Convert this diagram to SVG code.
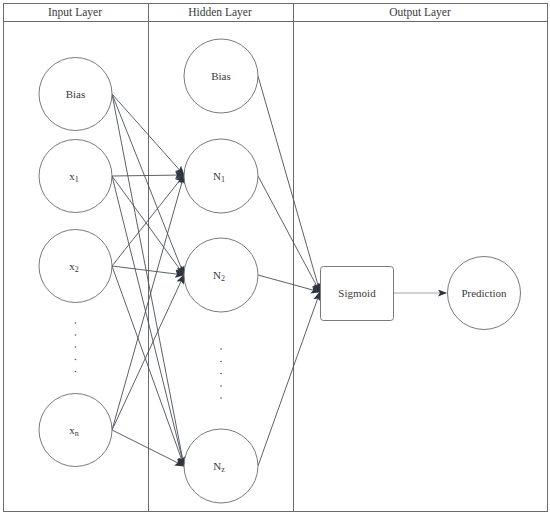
<svg xmlns="http://www.w3.org/2000/svg" width="550" height="515" viewBox="0 0 550 515">
<defs>
<marker id="ah" markerWidth="10" markerHeight="8" refX="9" refY="4" orient="auto" markerUnits="userSpaceOnUse">
<path d="M0,0 L10,4 L0,8 L2,4 Z" fill="#2e3440"/>
</marker>
<marker id="ah2" markerWidth="9" markerHeight="7" refX="8" refY="3.5" orient="auto" markerUnits="userSpaceOnUse">
<path d="M0,0 L9,3.5 L0,7 L2,3.5 Z" fill="#2e3440"/>
</marker>
</defs>
<style>
.frame{fill:none;stroke:#6b6b6b;stroke-width:1}
.node{fill:#fff;stroke:#7a7a7a;stroke-width:1}
.t{font-family:"Liberation Serif",serif;font-size:11px;fill:#3a3a3a;text-anchor:middle}
.h{font-family:"Liberation Serif",serif;font-size:11.5px;fill:#3a3a3a;text-anchor:middle}
.c{fill:none;stroke:#4a4f57;stroke-width:0.9;marker-end:url(#ah)}
.c2{fill:none;stroke:#8a8e94;stroke-width:0.8;marker-end:url(#ah2)}
.d{fill:#555}
</style>
<rect width="550" height="515" fill="#fff"/>
<g id="frame">
<rect class="frame" x="3.5" y="3.5" width="544" height="508"/>
<line class="frame" x1="3.5" y1="21.5" x2="547.5" y2="21.5"/>
<line class="frame" x1="148.5" y1="3.5" x2="148.5" y2="511.5"/>
<line class="frame" x1="293.5" y1="3.5" x2="293.5" y2="511.5"/>
<text class="h" x="75" y="16">Input Layer</text>
<text class="h" x="220" y="16">Hidden Layer</text>
<text class="h" x="420" y="16">Output Layer</text>
</g>
<g id="connectors">
<line class="c" x1="112" y1="94" x2="184" y2="175"/>
<line class="c" x1="112" y1="94" x2="184" y2="275"/>
<line class="c" x1="112" y1="94" x2="184" y2="466"/>
<line class="c" x1="112" y1="176" x2="184" y2="175"/>
<line class="c" x1="112" y1="176" x2="184" y2="275"/>
<line class="c" x1="112" y1="176" x2="184" y2="466"/>
<line class="c" x1="112" y1="266" x2="184" y2="175"/>
<line class="c" x1="112" y1="266" x2="184" y2="275"/>
<line class="c" x1="112" y1="266" x2="184" y2="466"/>
<line class="c" x1="112" y1="430" x2="184" y2="175"/>
<line class="c" x1="112" y1="430" x2="184" y2="275"/>
<line class="c" x1="112" y1="430" x2="184" y2="466"/>
<line class="c" x1="258" y1="76" x2="320" y2="292"/>
<line class="c" x1="258" y1="176" x2="320" y2="292"/>
<line class="c" x1="258" y1="275" x2="320" y2="292"/>
<line class="c" x1="258" y1="466" x2="320" y2="292"/>
<line class="c2" x1="394" y1="293" x2="446" y2="293"/>
</g>
<g id="in_bias"><circle class="node" cx="75.5" cy="94" r="36.5"/><text class="t" x="75.5" y="98">Bias</text></g>
<g id="in_x1"><circle class="node" cx="75.5" cy="176" r="36.5"/><text class="t" x="74" y="180">x<tspan font-size="8" dy="2">1</tspan></text></g>
<g id="in_x2"><circle class="node" cx="75.5" cy="266" r="36.5"/><text class="t" x="74" y="270">x<tspan font-size="8" dy="2">2</tspan></text></g>
<g id="in_dots">
<circle class="d" cx="75.5" cy="323" r="0.8"/><circle class="d" cx="75.5" cy="335" r="0.8"/><circle class="d" cx="75.5" cy="347" r="0.8"/><circle class="d" cx="75.5" cy="359.5" r="0.8"/><circle class="d" cx="75.5" cy="371.5" r="0.8"/>
</g>
<g id="in_xn"><circle class="node" cx="75.5" cy="430" r="36.5"/><text class="t" x="74" y="434">x<tspan font-size="8" dy="2">n</tspan></text></g>
<g id="h_bias"><circle class="node" cx="221" cy="76" r="37"/><text class="t" x="221" y="80">Bias</text></g>
<g id="h_n1"><circle class="node" cx="221" cy="176" r="37"/><text class="t" x="219" y="180">N<tspan font-size="8" dy="2">1</tspan></text></g>
<g id="h_n2"><circle class="node" cx="221" cy="275" r="37"/><text class="t" x="219" y="279">N<tspan font-size="8" dy="2">2</tspan></text></g>
<g id="h_dots">
<circle class="d" cx="221" cy="349" r="0.8"/><circle class="d" cx="221" cy="361.5" r="0.8"/><circle class="d" cx="221" cy="373.5" r="0.8"/><circle class="d" cx="221" cy="386" r="0.8"/><circle class="d" cx="221" cy="398" r="0.8"/>
</g>
<g id="h_nz"><circle class="node" cx="221" cy="466" r="37"/><text class="t" x="219" y="470">N<tspan font-size="8" dy="2">z</tspan></text></g>
<g id="sigmoid"><rect class="node" x="320.5" y="266.5" width="73" height="54" rx="3"/><text class="t" x="357" y="297">Sigmoid</text></g>
<g id="prediction"><circle class="node" cx="484" cy="293" r="36.5"/><text class="t" x="484" y="297">Prediction</text></g>
</svg>
